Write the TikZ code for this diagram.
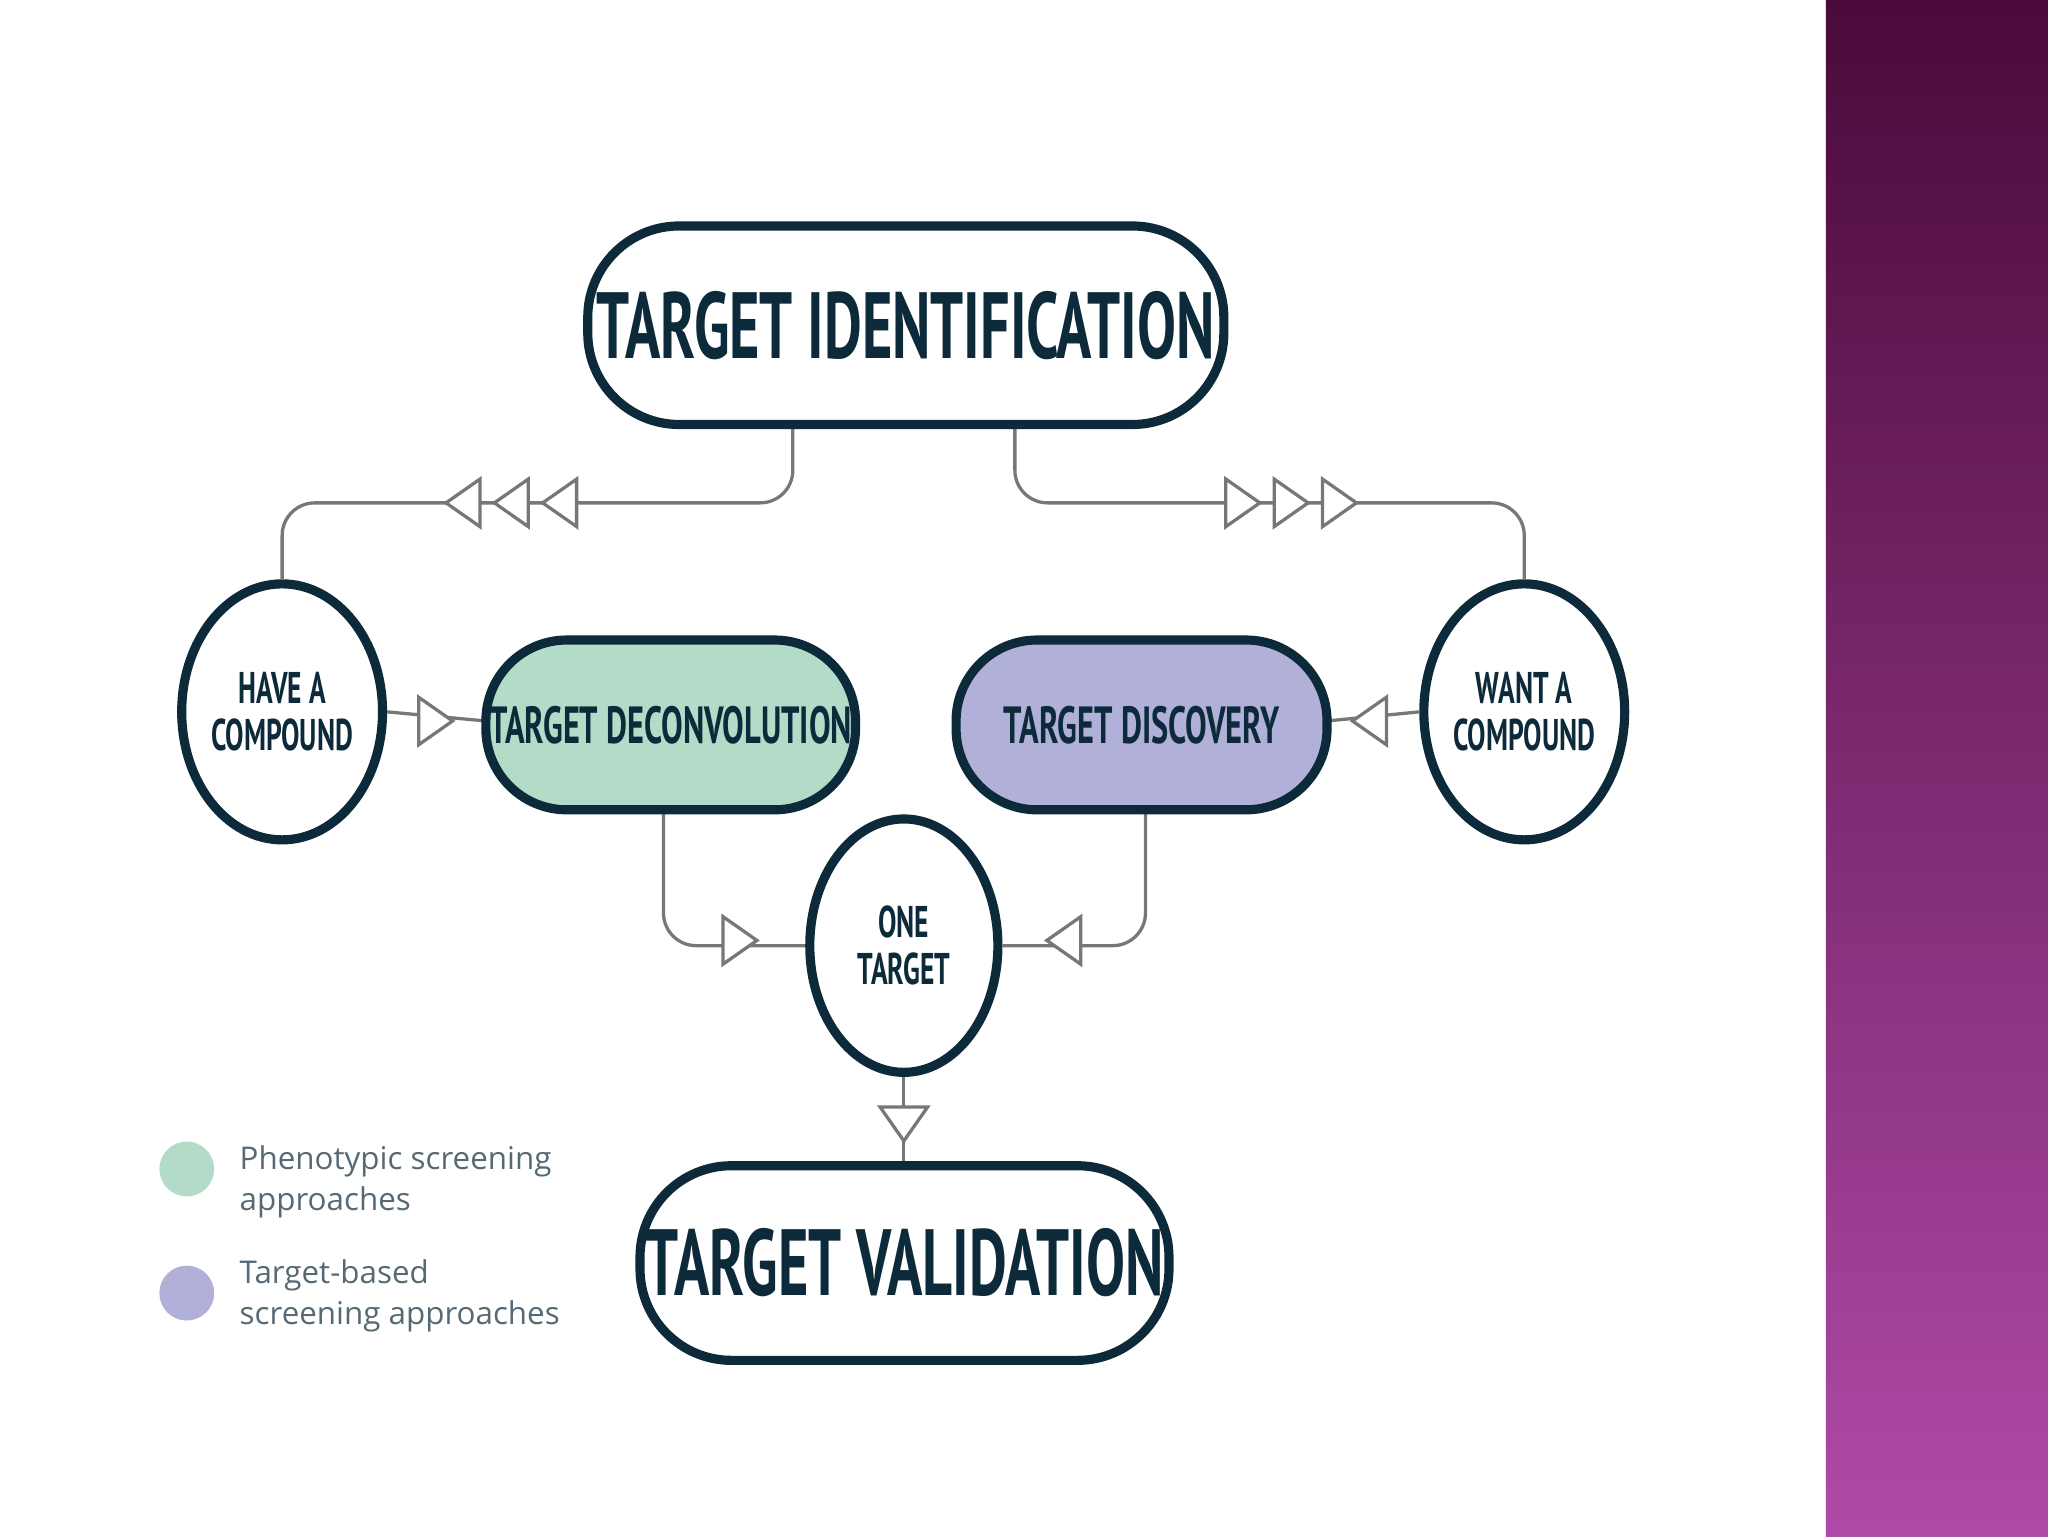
\documentclass[tikz,border=0pt]{standalone}
\usepackage{fontspec}
\setmainfont{Open Sans}
\newfontfamily\cond[FakeStretch=0.62]{PT Sans Bold}
\usetikzlibrary{shapes.geometric,fadings}
\definecolor{navy}{HTML}{0D2A3A}
\definecolor{gr}{HTML}{B3DCC8}
\definecolor{pu}{HTML}{B0B0D8}
\definecolor{ln}{HTML}{777777}
\definecolor{topc}{HTML}{4A0A3A}
\definecolor{botc}{HTML}{B04AA8}
\begin{document}
\begin{tikzpicture}[x=1pt,y=-1pt,
  pill/.style={draw=navy,line width=7pt,rounded corners=70pt,inner sep=0pt,text=navy,font=\cond},
  oval/.style={draw=navy,line width=7pt,ellipse,minimum width=146pt,minimum height=196pt,inner sep=0pt,text=navy,font=\cond\fontsize{34}{36}\selectfont,align=center},
  conn/.style={draw=ln,line width=2.5pt,rounded corners=25pt},
  tri/.style={isosceles triangle,isosceles triangle apex angle=70,draw=ln,line width=2.5pt,fill=white,minimum height=26pt,inner sep=0pt},
  leg/.style={anchor=west,align=left,text=navy!70,font=\fontsize{24}{31}\selectfont}]
\useasboundingbox (0,0) rectangle (1568,1176);
\fill[white] (0,0) rectangle (1568,1176);
\shade[top color=topc,bottom color=botc] (1398,0) rectangle (1568,1176);
% connectors first
\coordinate (tl) at (607,325);
\coordinate (tr) at (777,325);
\coordinate (bl) at (508,620);
\coordinate (br) at (877,620);
\node[oval] (have) at (216,545) {HAVE A\\COMPOUND};
\node[oval] (want) at (1167,545) {WANT A\\COMPOUND};
\node[oval,minimum width=144pt,minimum height=194pt] (one) at (692,724) {ONE\\TARGET};
\draw[conn] (tl) |- (216,385) -- (have.north);
\draw[conn] (tr) |- (1167,385) -- (want.north);
\draw[conn] (bl) |- (one.west);
\draw[conn] (br) |- (one.east);
\draw[conn] (have.east) -- (372,552);
\draw[conn] (want.west) -- (1016,552);
\draw[conn] (one.south) -- (692,893);
\node[pill,minimum width=487pt,minimum height=152pt,font=\cond\fontsize{72}{72}\selectfont] (ti) at (693.5,249) {TARGET IDENTIFICATION};
\node[pill,fill=gr,rounded corners=62pt,minimum width=283pt,minimum height=130pt,font=\cond\fontsize{40}{40}\selectfont] (td) at (513.5,555) {TARGET DECONVOLUTION};
\node[pill,fill=pu,rounded corners=62pt,minimum width=284pt,minimum height=130pt,font=\cond\fontsize{40}{40}\selectfont] (tdis) at (874,555) {TARGET DISCOVERY};
\node[pill,minimum width=405pt,minimum height=149pt,font=\cond\fontsize{72}{72}\selectfont] (tv) at (692.5,967) {TARGET VALIDATION};
\foreach \x/\n in {358/a,395/b,432/c} \node[tri,shape border rotate=180] (l\n) at (\x,385) {};
\foreach \x/\n in {948/a,985/b,1022/c} \node[tri] (r\n) at (\x,385) {};
\node[tri] (t1) at (330,552) {};
\node[tri,shape border rotate=180] (t2) at (1052,552) {};
\node[tri] (t3) at (563,720) {};
\node[tri,shape border rotate=180] (t4) at (818,720) {};
\node[tri,shape border rotate=-90] (t5) at (692,857) {};
\fill[gr] (143,895) circle (21);
\fill[pu] (143,990) circle (21);
\node[leg] (l1) at (180,905) {Phenotypic screening\\approaches};
\node[leg] (l2) at (180,992) {Target-based\\screening approaches};
\end{tikzpicture}
\end{document}
